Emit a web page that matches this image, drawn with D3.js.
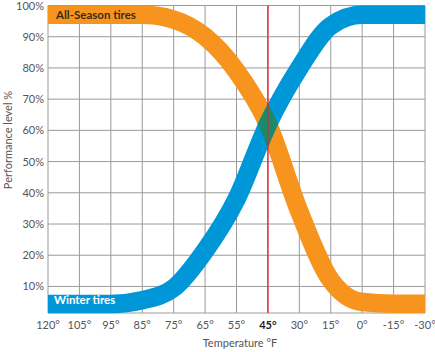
<!DOCTYPE html>
<html>
<head>
<meta charset="utf-8">
<script src="https://cdn.jsdelivr.net/npm/d3@7"></script>
<style>
  body { margin: 0; background: #fff; }
  text { font-family: Lato, "Open Sans", sans-serif; }
</style>
</head>
<body>
<div id="chart"></div>
<script>
// temperature ticks (left = hot, right = cold)
var temps = ["120°", "105°", "95°", "85°", "75°", "65°", "55°", "45°", "30°", "15°", "0°", "-15°", "-30°"];
// performance level % read at each tick
var allSeason = [97, 97, 97, 97, 95.5, 90, 79, 62, 34, 12, 5, 4.5, 4.5];
var winter = [4.4, 4.4, 4.4, 5.6, 9.5, 21.5, 38, 62, 80, 93.5, 97, 97, 97];
var yTicks = [10, 20, 30, 40, 50, 60, 70, 80, 90, 100];
var markTemp = "45°";

var svgWidth = 435, svgHeight = 352;
var margin = {top: 5.5, right: 10, bottom: 39, left: 48};
var width = svgWidth - margin.left - margin.right;
var height = svgHeight - margin.top - margin.bottom;

var svg = d3.select("#chart").append("svg")
    .attr("width", svgWidth)
    .attr("height", svgHeight);

var g = svg.append("g")
    .attr("transform", `translate(${margin.left}, ${margin.top})`);

var x = d3.scalePoint().domain(temps).range([0, width]);
var y = d3.scaleLinear().domain([1.5, 100]).range([height, 0]);

// grid
g.selectAll("line.vgrid")
    .data(temps)
    .enter().append("line")
    .attr("class", "vgrid")
    .attr("x1", d => x(d)).attr("x2", d => x(d))
    .attr("y1", 0).attr("y2", height)
    .attr("stroke", "#9a9a9a").attr("stroke-width", 1);

g.selectAll("line.hgrid")
    .data([1.5].concat(yTicks))
    .enter().append("line")
    .attr("class", "hgrid")
    .attr("x1", 0).attr("x2", width)
    .attr("y1", d => y(d)).attr("y2", d => y(d))
    .attr("stroke", "#9a9a9a").attr("stroke-width", 1);

// axes labels
g.selectAll("text.ylab")
    .data(yTicks)
    .enter().append("text")
    .attr("class", "ylab")
    .attr("x", -4)
    .attr("y", d => y(d) + 4)
    .attr("text-anchor", "end")
    .attr("font-size", "11px")
    .attr("fill", "#555")
    .text(d => d + "%");

g.selectAll("text.xlab")
    .data(temps)
    .enter().append("text")
    .attr("class", "xlab")
    .attr("x", d => x(d))
    .attr("y", height + 16)
    .attr("text-anchor", "middle")
    .attr("font-size", "11px")
    .attr("font-weight", d => d === markTemp ? "bold" : "normal")
    .attr("fill", d => d === markTemp ? "#222" : "#555")
    .text(d => d);

var line = d3.line()
    .x((d, i) => x(temps[i]))
    .y(d => y(d))
    .curve(d3.curveMonotoneX);

var band = 18.5;

// mask for the overlap (same user space as g)
var defs = svg.append("defs");
defs.append("mask")
    .attr("id", "winterMask")
    .attr("maskUnits", "userSpaceOnUse")
    .attr("x", -margin.left).attr("y", -margin.top)
    .attr("width", svgWidth).attr("height", svgHeight)
  .append("path")
    .attr("d", line(winter))
    .attr("fill", "none")
    .attr("stroke", "#fff")
    .attr("stroke-width", band);

g.append("path")
    .attr("d", line(allSeason))
    .attr("fill", "none")
    .attr("stroke", "#f7941d")
    .attr("stroke-width", band);

g.append("path")
    .attr("d", line(winter))
    .attr("fill", "none")
    .attr("stroke", "#0097d9")
    .attr("stroke-width", band);

g.append("path")
    .attr("mask", "url(#winterMask)")
    .attr("d", line(allSeason))
    .attr("fill", "none")
    .attr("stroke", "#1b8a6b")
    .attr("stroke-width", band);

// 45 degree marker
g.append("line")
    .attr("x1", x(markTemp)).attr("x2", x(markTemp))
    .attr("y1", 0).attr("y2", height)
    .attr("stroke", "#e8232b").attr("stroke-width", 1.3);

// series labels
g.append("text")
    .attr("x", 8).attr("y", 13.5)
    .attr("font-size", "11.5px")
    .attr("font-weight", "bold")
    .attr("fill", "#3a2c1c")
    .text("All-Season tires");

g.append("text")
    .attr("x", 6).attr("y", 298.5)
    .attr("font-size", "11.5px")
    .attr("font-weight", "bold")
    .attr("fill", "#fff")
    .text("Winter tires");

// axis titles
svg.append("text")
    .attr("transform", "rotate(-90)")
    .attr("x", -140)
    .attr("y", 12)
    .attr("text-anchor", "middle")
    .attr("font-size", "11px")
    .attr("fill", "#555")
    .text("Performance level %");

svg.append("text")
    .attr("x", 240)
    .attr("y", 347)
    .attr("text-anchor", "middle")
    .attr("font-size", "11px")
    .attr("fill", "#555")
    .text("Temperature °F");
</script>
</body>
</html>
